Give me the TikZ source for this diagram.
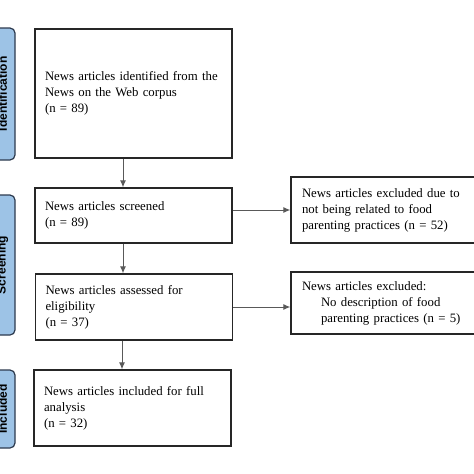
\documentclass[tikz,border=0pt]{standalone}
\usepackage{fontspec}
\setmainfont{Liberation Serif}
\newfontfamily\phasefont{Liberation Sans}
\usetikzlibrary{arrows.meta,positioning}
\definecolor{phaseblue}{RGB}{157,195,230}
\definecolor{phaseedge}{RGB}{45,58,78}

\begin{document}
\begin{tikzpicture}[x=1pt,y=-1pt,
  stepbox/.style={draw=black!85, line width=1.3pt, align=left, text width=177pt, inner xsep=10pt, font=\fontsize{12.8}{16}\selectfont},
  exclbox/.style={stepbox, inner xsep=11pt},
  phase/.style={draw=phaseedge, line width=1.2pt, fill=phaseblue, rounded corners=5pt, rotate=90, minimum height=25pt, inner sep=0pt, font=\phasefont\bfseries\fontsize{12}{14}\selectfont},
  flow/.style={-{Latex[length=7pt,width=6pt]}, draw=black!65, line width=1pt}]
\useasboundingbox (0,0) rectangle (474,474);
\clip (0,0) rectangle (474,474);

% Phase labels
\node[phase, minimum width=132pt] (pident) at (2.5,94) {Identification};
\node[phase, minimum width=140pt] (pscreen) at (2.5,265) {Screening};
\node[phase, minimum width=78pt] (pincl) at (2.5,409) {Included};

% Main flow boxes
\node[stepbox, minimum height=129pt] (ident) at (133.5,93.5) {News articles identified from the\\ News on the Web corpus\\ (n = 89)};
\node[stepbox, minimum height=55pt] (screen) at (133.5,215.5) {News articles screened\\ (n = 89)};
\node[stepbox, minimum height=66pt] (elig) at (134,307) {News articles assessed for\\ eligibility\\ (n = 37)};
\node[stepbox, minimum height=76pt] (incl) at (132.5,408) {News articles included for full\\ analysis\\ (n = 32)};

% Exclusion boxes
\node[exclbox, minimum height=66pt] (excl1) at (390.5,210) {News articles excluded due to\\ not being related to food\\ parenting practices (n = 52)};
\node[exclbox, minimum height=62pt] (excl2) at (390.5,303) {News articles excluded:\\ \hspace*{19pt}No description of food\\ \hspace*{19pt}parenting practices (n = 5)};

% Connectors
\draw[flow] ([xshift=-10.5pt]ident.south) -- ([xshift=-10.5pt]screen.north);
\draw[flow] ([xshift=-10.5pt]screen.south) -- ([xshift=-11pt]elig.north);
\draw[flow] ([xshift=-12pt]elig.south) -- ([xshift=-10.5pt]incl.north);
\draw[flow] (screen.east |- excl1.west) -- (excl1.west);
\draw[flow] (elig.east) -- (elig.east -| excl2.west);
\end{tikzpicture}
\end{document}
